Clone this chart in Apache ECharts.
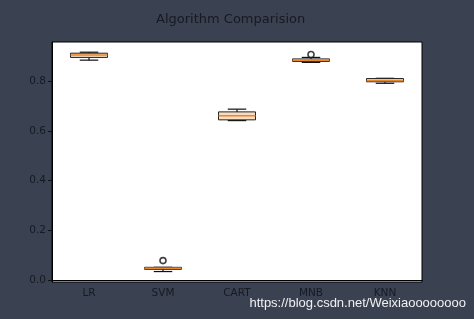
<!DOCTYPE html>
<html><head><meta charset="utf-8">
<script src="https://cdn.jsdelivr.net/npm/echarts@6/dist/echarts.min.js"></script>
<style>html,body{margin:0;padding:0;background:#3a4151;}#c{width:474px;height:319px;}</style>
</head><body><div id="c"></div>
<script>
const categories = ['LR','SVM','CART','MNB','KNN'];
const lowerWhisker = [0.884, 0.034, 0.641, 0.875, 0.791];
const q1 =          [0.895, 0.043, 0.644, 0.879, 0.797];
const median =      [0.905, 0.047, 0.660, 0.884, 0.802];
const q3 =          [0.912, 0.051, 0.676, 0.889, 0.810];
const upperWhisker =[0.916, 0.051, 0.687, 0.895, 0.811];
const outlierCat = ['SVM', 'MNB'];
const outlierVal = [0.078, 0.907];
const yTicks = [0.0, 0.2, 0.4, 0.6, 0.8];
const yMin = -0.008, yMax = 0.957;

const boxData = categories.map((c,i)=>[i, lowerWhisker[i], q1[i], median[i], q3[i], upperWhisker[i]]);

function renderBox(params, api){
  const i = api.value(0);
  const band = api.size([1,0])[0];
  const bw = band*0.5, cw = band*0.25;
  const pLow = api.coord([i, api.value(1)]);
  const pQ1 = api.coord([i, api.value(2)]);
  const pMed = api.coord([i, api.value(3)]);
  const pQ3 = api.coord([i, api.value(4)]);
  const pHigh = api.coord([i, api.value(5)]);
  const x = pQ1[0];
  const stroke = {stroke:'#111', lineWidth:1.2};
  return {type:'group', children:[
    {type:'line', shape:{x1:x,y1:pQ1[1],x2:x,y2:pLow[1]}, style:stroke},
    {type:'line', shape:{x1:x,y1:pQ3[1],x2:x,y2:pHigh[1]}, style:stroke},
    {type:'line', shape:{x1:x-cw/2,y1:pLow[1],x2:x+cw/2,y2:pLow[1]}, style:stroke},
    {type:'line', shape:{x1:x-cw/2,y1:pHigh[1],x2:x+cw/2,y2:pHigh[1]}, style:stroke},
    {type:'rect', shape:{x:x-bw/2,y:pQ3[1],width:bw,height:Math.max(pQ1[1]-pQ3[1],1)}, style:{fill:'#f8ddc2',stroke:'#222',lineWidth:1}},
    {type:'line', shape:{x1:x-bw/2,y1:pMed[1],x2:x+bw/2,y2:pMed[1]}, style:{stroke:'#e8862c',lineWidth:1.5}}
  ]};
}

const chart = echarts.init(document.getElementById('c'), null, {renderer:'canvas'});
chart.setOption({
  backgroundColor:'#3a4151',
  animation:false,
  title:{text:'Algorithm Comparision', left:151, top:8, textStyle:{fontFamily:'DejaVu Sans', fontSize:13, fontWeight:'normal', color:'#161a23'}},
  grid:{left:52, right:52, top:42, bottom:37, show:true, backgroundColor:'#ffffff', borderColor:'#000', borderWidth:1},
  xAxis:{type:'category', data:categories, boundaryGap:true,
    axisLine:{lineStyle:{color:'#000'}},
    axisTick:{alignWithLabel:true, length:4, lineStyle:{color:'#111'}},
    axisLabel:{fontFamily:'DejaVu Sans', fontSize:10.5, color:'#161a23', margin:6},
    splitLine:{show:false}},
  yAxis:{type:'value', min:yMin, max:yMax,
    axisLine:{show:true, lineStyle:{color:'#000'}},
    axisTick:{show:true, length:4, customValues:yTicks, lineStyle:{color:'#111'}},
    axisLabel:{fontFamily:'DejaVu Sans', fontSize:10.5, color:'#161a23', margin:6, customValues:yTicks, formatter:v=>v.toFixed(1)},
    splitLine:{show:false}},
  series:[
    {type:'custom', renderItem:renderBox, data:boxData, encode:{x:0,y:[1,2,3,4,5]}},
    {type:'scatter', data:outlierCat.map((c,i)=>[c,outlierVal[i]]), symbol:'circle', symbolSize:6,
      itemStyle:{color:'#ffffff', borderColor:'#111', borderWidth:1.6}}
  ],
  graphic:[{type:'text', right:8, top:297, style:{text:'https://blog.csdn.net/Weixiaoooooooo', fill:'rgba(255,255,255,0.92)', font:'13px "Liberation Sans", Arial, sans-serif'}}]
});
</script></body></html>
